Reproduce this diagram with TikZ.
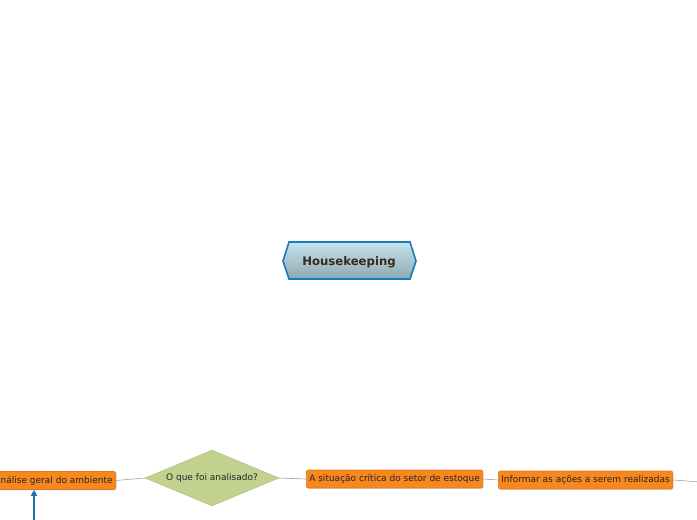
\documentclass[tikz,border=0pt]{standalone}
\usepackage{fontspec}
\setmainfont{DejaVu Sans}
\usetikzlibrary{shapes.geometric,arrows.meta,shadows}
\definecolor{orfill}{HTML}{F7881F}
\definecolor{ordraw}{HTML}{E7761A}
\definecolor{dmfill}{HTML}{C2D18E}
\definecolor{dmdraw}{HTML}{B3C383}
\definecolor{hxtop}{HTML}{C6E4EE}
\definecolor{hxbot}{HTML}{8EA8B1}
\definecolor{hxdraw}{HTML}{1B7AB8}
\definecolor{hxtext}{HTML}{3A2818}
\definecolor{conn}{HTML}{A0A0A0}
\definecolor{arrowblue}{HTML}{1C70AD}
\tikzset{
  orbox/.style={draw=ordraw, fill=orfill, rounded corners=2pt, line width=0.6pt,
    minimum height=18pt, inner xsep=3pt, inner ysep=0pt, font=\fontsize{9}{10}\selectfont,
    text=black!85, drop shadow={shadow xshift=0.8pt, shadow yshift=-0.8pt, opacity=0.25}},
  dmnode/.style={diamond, draw=dmdraw, fill=dmfill, line width=0.5pt, aspect=2.4,
    minimum width=134pt, minimum height=56pt, inner sep=0pt, font=\fontsize{9}{10}\selectfont, text=black!85},
  conline/.style={draw=conn, line width=0.6pt},
}
\begin{document}
\begin{tikzpicture}[x=1pt,y=-1pt]
\useasboundingbox (0,0) rectangle (697,520);
\clip (0,0) rectangle (697,520);
% hexagon
\coordinate (h1) at (283,261);
\coordinate (h2) at (289,242);
\coordinate (h3) at (410,242);
\coordinate (h4) at (416,261);
\coordinate (h5) at (410,279);
\coordinate (h6) at (289,279);
\shade[top color=hxtop, bottom color=hxbot] (h1)--(h2)--(h3)--(h4)--(h5)--(h6)--cycle;
\draw[hxdraw, line width=1.6pt, line join=miter] (h1)--(h2)--(h3)--(h4)--(h5)--(h6)--cycle;
\node[font=\bfseries\fontsize{11.7}{13}\selectfont, text=hxtext] (hk) at (349,262) {Housekeeping};
% nodes
\node[orbox, anchor=east] (b1) at (116,480.5) {uma análise geral do ambiente};
\node[dmnode] (d1) at (212,478) {O que foi analisado?};
\node[orbox, anchor=west] (b2) at (306,479) {A situação crítica do setor de estoque};
\node[orbox, anchor=west] (b3) at (498,480) {Informar as ações a serem realizadas};
\coordinate (endr) at (700,482);
\coordinate (arrs) at (34,525);
% connectors
\draw[conline] (b1.east) -- (d1.west);
\draw[conline] (d1.east) -- (b2.west);
\draw[conline] (b2.east) -- (b3.west);
\draw[conline] (b3.east) -- (endr);
\draw[arrowblue, line width=1.6pt, -{Triangle[length=6pt,width=6pt]}] (arrs) -- (arrs |- b1.south);
\end{tikzpicture}
\end{document}
